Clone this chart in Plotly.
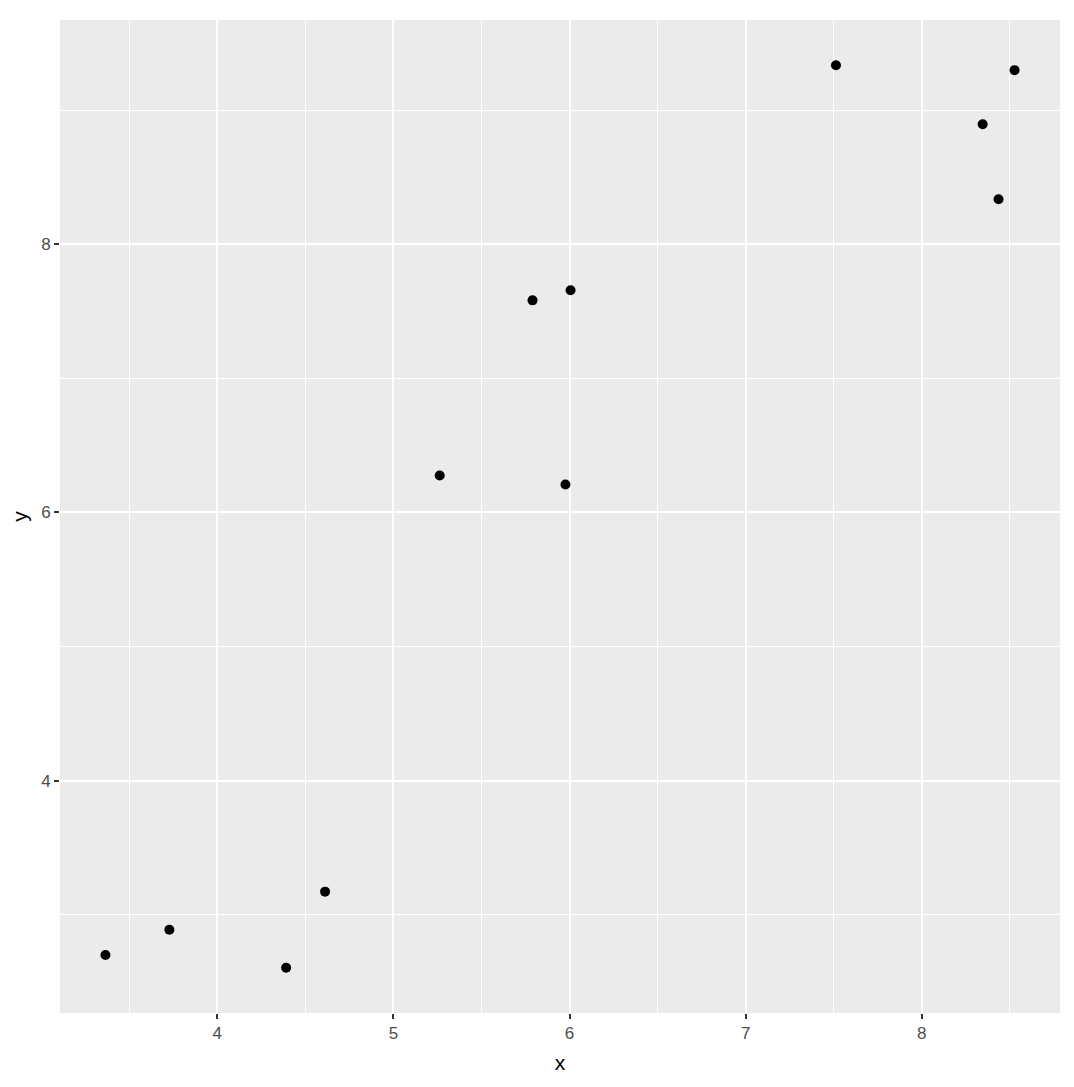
import plotly.graph_objects as go

# values
x = [3.365, 3.728, 4.391, 4.612, 5.263, 5.790, 6.006, 5.977, 7.513, 8.346, 8.436, 8.527]
y = [2.700, 2.888, 2.604, 3.172, 6.276, 7.582, 7.657, 6.209, 9.336, 8.896, 8.336, 9.299]

x_ticks = [4, 5, 6, 7, 8]
y_ticks = [4, 6, 8]

fig = go.Figure()
fig.add_trace(go.Scatter(x=x, y=y, mode="markers",
                         marker=dict(color="black", size=10),
                         showlegend=False))

axis_style = dict(
    showline=False, zeroline=False, automargin=False,
    gridcolor="white", gridwidth=2.2,
    minor=dict(showgrid=True, gridcolor="white", gridwidth=1),
    ticks="outside", ticklen=5, tickwidth=1.5, tickcolor="#333333",
    tickfont=dict(family="Liberation Sans, Arial", size=17, color="#4D4D4D"),
    title_font=dict(family="Liberation Sans, Arial", size=21, color="black"),
)

fig.update_xaxes(axis_style, range=[3.107, 8.785], tickvals=x_ticks,
                 minor_dtick=0.5, title_text="x", title_standoff=12)
fig.update_yaxes(axis_style, range=[2.267, 9.673], tickvals=y_ticks,
                 minor_dtick=1, title_text="y", title_standoff=8)

fig.update_layout(
    width=1066, height=1079,
    plot_bgcolor="#EBEBEB", paper_bgcolor="white",
    margin=dict(l=52, r=14, t=12, b=74),
)

fig.write_html("out.html")
